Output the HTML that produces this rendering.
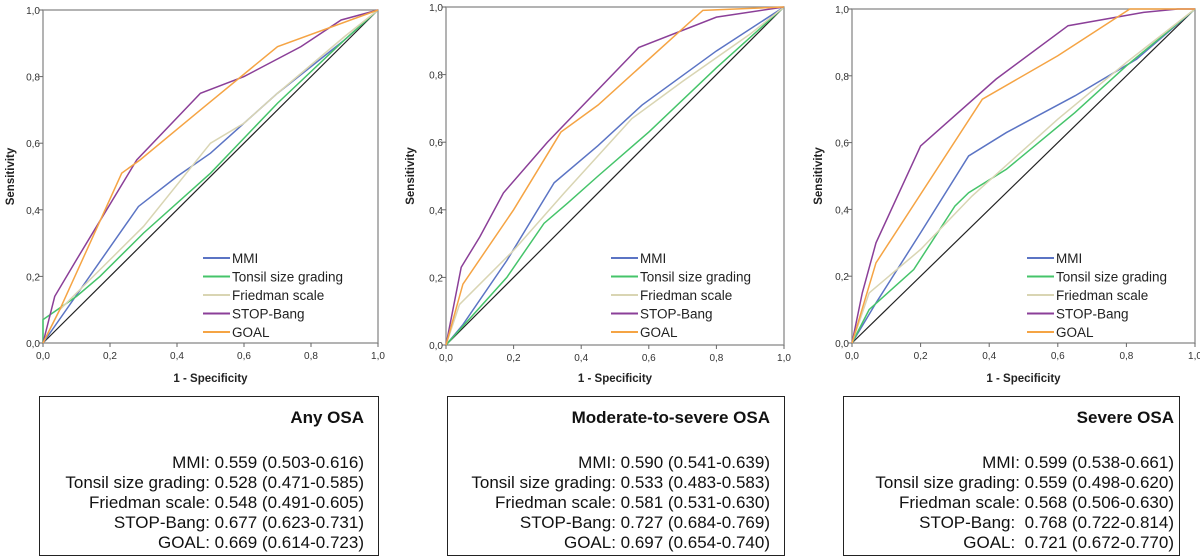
<!DOCTYPE html>
<html><head><meta charset="utf-8">
<style>
body{margin:0;background:#fff;width:1200px;height:559px;overflow:hidden;font-family:"Liberation Sans",Arial,sans-serif}
.box{position:absolute;top:396px;height:160px;border:1.5px solid #222;box-sizing:border-box;text-align:right;font-size:17px;color:#111}
.box .t{font-weight:bold;margin-top:10px;line-height:22px}
.box .r{line-height:20px}
</style></head><body>
<svg id="chart" width="1200" height="390" style="position:absolute;left:0;top:0"></svg>

<div class="box" style="left:39px;width:340px;padding-right:14px">
<div class="t">Any OSA</div><div style="height:24px"></div>
<div class="r">MMI: 0.559 (0.503-0.616)</div><div class="r">Tonsil size grading: 0.528 (0.471-0.585)</div><div class="r">Friedman scale: 0.548 (0.491-0.605)</div><div class="r">STOP-Bang: 0.677 (0.623-0.731)</div><div class="r">GOAL: 0.669 (0.614-0.723)</div></div>
<div class="box" style="left:447px;width:338px;padding-right:14px">
<div class="t">Moderate-to-severe OSA</div><div style="height:24px"></div>
<div class="r">MMI: 0.590 (0.541-0.639)</div><div class="r">Tonsil size grading: 0.533 (0.483-0.583)</div><div class="r">Friedman scale: 0.581 (0.531-0.630)</div><div class="r">STOP-Bang: 0.727 (0.684-0.769)</div><div class="r">GOAL: 0.697 (0.654-0.740)</div></div>
<div class="box" style="left:843px;width:337px;padding-right:5px">
<div class="t">Severe OSA</div><div style="height:24px"></div>
<div class="r">MMI: 0.599 (0.538-0.661)</div><div class="r">Tonsil size grading: 0.559 (0.498-0.620)</div><div class="r">Friedman scale: 0.568 (0.506-0.630)</div><div class="r">STOP-Bang:&nbsp; 0.768 (0.722-0.814)</div><div class="r">GOAL:&nbsp; 0.721 (0.672-0.770)</div></div>

<script>
const seriesNames=["MMI","Tonsil size grading","Friedman scale","STOP-Bang","GOAL"];
const seriesColors=["#5b74c4","#45c46a","#d9d5b3","#8b3f98","#f5a444"];
const tickLabels=["0,0","0,2","0,4","0,6","0,8","1,0"];
const tickValues=[0,0.2,0.4,0.6,0.8,1];
// panel 1: Any OSA
const anyMMI=[[0,0],[0.285,0.41],[0.4,0.5],[0.5,0.57],[0.6,0.66],[0.7,0.75],[0.8,0.83],[0.9,0.91],[1,1]];
const anyTonsil=[[0,0],[0,0.07],[0.1,0.14],[0.17,0.2],[0.3,0.33],[0.5,0.51],[0.7,0.72],[0.9,0.91],[1,1]];
const anyFriedman=[[0,0],[0.05,0.1],[0.15,0.2],[0.3,0.35],[0.5,0.6],[0.6,0.66],[0.7,0.75],[0.9,0.92],[1,1]];
const anyStop=[[0,0],[0.035,0.14],[0.1,0.25],[0.16,0.35],[0.28,0.55],[0.47,0.75],[0.6,0.8],[0.77,0.89],[0.89,0.97],[1,1]];
const anyGoal=[[0,0],[0.05,0.1],[0.235,0.51],[0.29,0.55],[0.47,0.7],[0.7,0.89],[1,1]];
// panel 2: Moderate-to-severe
const modMMI=[[0,0],[0.05,0.06],[0.18,0.25],[0.32,0.48],[0.45,0.59],[0.58,0.71],[0.8,0.87],[1,1]];
const modTonsil=[[0,0],[0.18,0.2],[0.29,0.36],[0.36,0.42],[0.45,0.5],[0.6,0.63],[0.8,0.82],[1,1]];
const modFriedman=[[0,0],[0.04,0.12],[0.2,0.28],[0.35,0.45],[0.55,0.67],[0.7,0.78],[0.9,0.92],[1,1]];
const modStop=[[0,0],[0.045,0.23],[0.1,0.32],[0.17,0.45],[0.3,0.6],[0.57,0.88],[0.8,0.97],[1,1]];
const modGoal=[[0,0],[0.05,0.18],[0.2,0.4],[0.34,0.63],[0.45,0.71],[0.76,0.99],[1,1]];
// panel 3: Severe
const sevMMI=[[0,0],[0.07,0.12],[0.2,0.33],[0.34,0.56],[0.45,0.63],[0.65,0.74],[0.83,0.85],[1,1]];
const sevTonsil=[[0,0],[0.05,0.1],[0.18,0.22],[0.3,0.41],[0.34,0.45],[0.45,0.52],[0.65,0.69],[0.8,0.83],[1,1]];
const sevFriedman=[[0,0],[0.05,0.15],[0.2,0.28],[0.35,0.44],[0.6,0.67],[0.8,0.84],[1,1]];
const sevStop=[[0,0],[0.03,0.15],[0.07,0.3],[0.2,0.59],[0.42,0.79],[0.63,0.95],[0.85,0.99],[0.95,1],[1,1]];
const sevGoal=[[0,0],[0.07,0.24],[0.38,0.73],[0.6,0.86],[0.81,1],[1,1]];

const panels=[
 {name:"any-osa",x0:43,x1:378,y0:343,y1:10,ytx:10,lx:203,series:[anyMMI,anyTonsil,anyFriedman,anyStop,anyGoal]},
 {name:"moderate-severe-osa",x0:446,x1:784,y0:345,y1:7,ytx:410,lx:611,series:[modMMI,modTonsil,modFriedman,modStop,modGoal]},
 {name:"severe-osa",x0:852,x1:1195,y0:343,y1:9,ytx:818,lx:1027,series:[sevMMI,sevTonsil,sevFriedman,sevStop,sevGoal]}
];
const svg=document.getElementById('chart');
const NS="http://www.w3.org/2000/svg";
function mk(tag,attrs,parent){const e=document.createElementNS(NS,tag);for(const k in attrs)e.setAttribute(k,attrs[k]);parent.appendChild(e);return e;}
panels.forEach(p=>{
 const g=mk('g',{},svg);
 
 
 const sx=v=>p.x0+v*(p.x1-p.x0), sy=v=>p.y0+v*(p.y1-p.y0);
 const fr=mk('rect',{x:p.x0,y:p.y1,width:p.x1-p.x0,height:p.y0-p.y1,fill:'none',stroke:'#8a8a8a','stroke-width':1.3},g);
 
 
 tickValues.forEach((v,i)=>{
  mk('line',{x1:p.x0-4,x2:p.x0,y1:sy(v),y2:sy(v),stroke:'#666'},g);
  mk('line',{x1:sx(v),x2:sx(v),y1:p.y0,y2:p.y0+4,stroke:'#666'},g);
  const yl=mk('text',{x:p.x0-3,y:sy(v)+4,'text-anchor':'end','font-size':10,fill:'#333'},g);yl.textContent=tickLabels[i];
  
  
  const xl=mk('text',{x:sx(v),y:p.y0+16,'text-anchor':'middle','font-size':10,fill:'#333'},g);xl.textContent=tickLabels[i];
  
  
 });
 const dg=mk('line',{x1:sx(0),y1:sy(0),x2:sx(1),y2:sy(1),stroke:'#222','stroke-width':1.2},g);
 
 
 p.series.forEach((s,i)=>{
  const pl=mk('polyline',{points:s.map(q=>sx(q[0])+','+sy(q[1])).join(' '),fill:'none',stroke:seriesColors[i],'stroke-width':1.5},g);
  
  
  const ly=258+i*18.5;
  const ll=mk('line',{x1:p.lx,x2:p.lx+27,y1:ly,y2:ly,stroke:seriesColors[i],'stroke-width':2},g);
  
  
  const lt=mk('text',{x:p.lx+29,y:ly+5,'font-size':13.5,fill:'#222'},g);lt.textContent=seriesNames[i];
  
  
 });
 const xt=mk('text',{x:(p.x0+p.x1)/2,y:382,'text-anchor':'middle','font-size':11.5,'font-weight':'bold',fill:'#222'},g);xt.textContent='1 - Specificity';
 
 
 const yc=(p.y0+p.y1)/2;
 const yt=mk('text',{x:p.ytx+4,y:yc,'text-anchor':'middle','font-size':11.5,'font-weight':'bold',fill:'#222',transform:'rotate(-90 '+(p.ytx+4)+' '+yc+')'},g);yt.textContent='Sensitivity';
 
 
});
</script>
</body></html>
